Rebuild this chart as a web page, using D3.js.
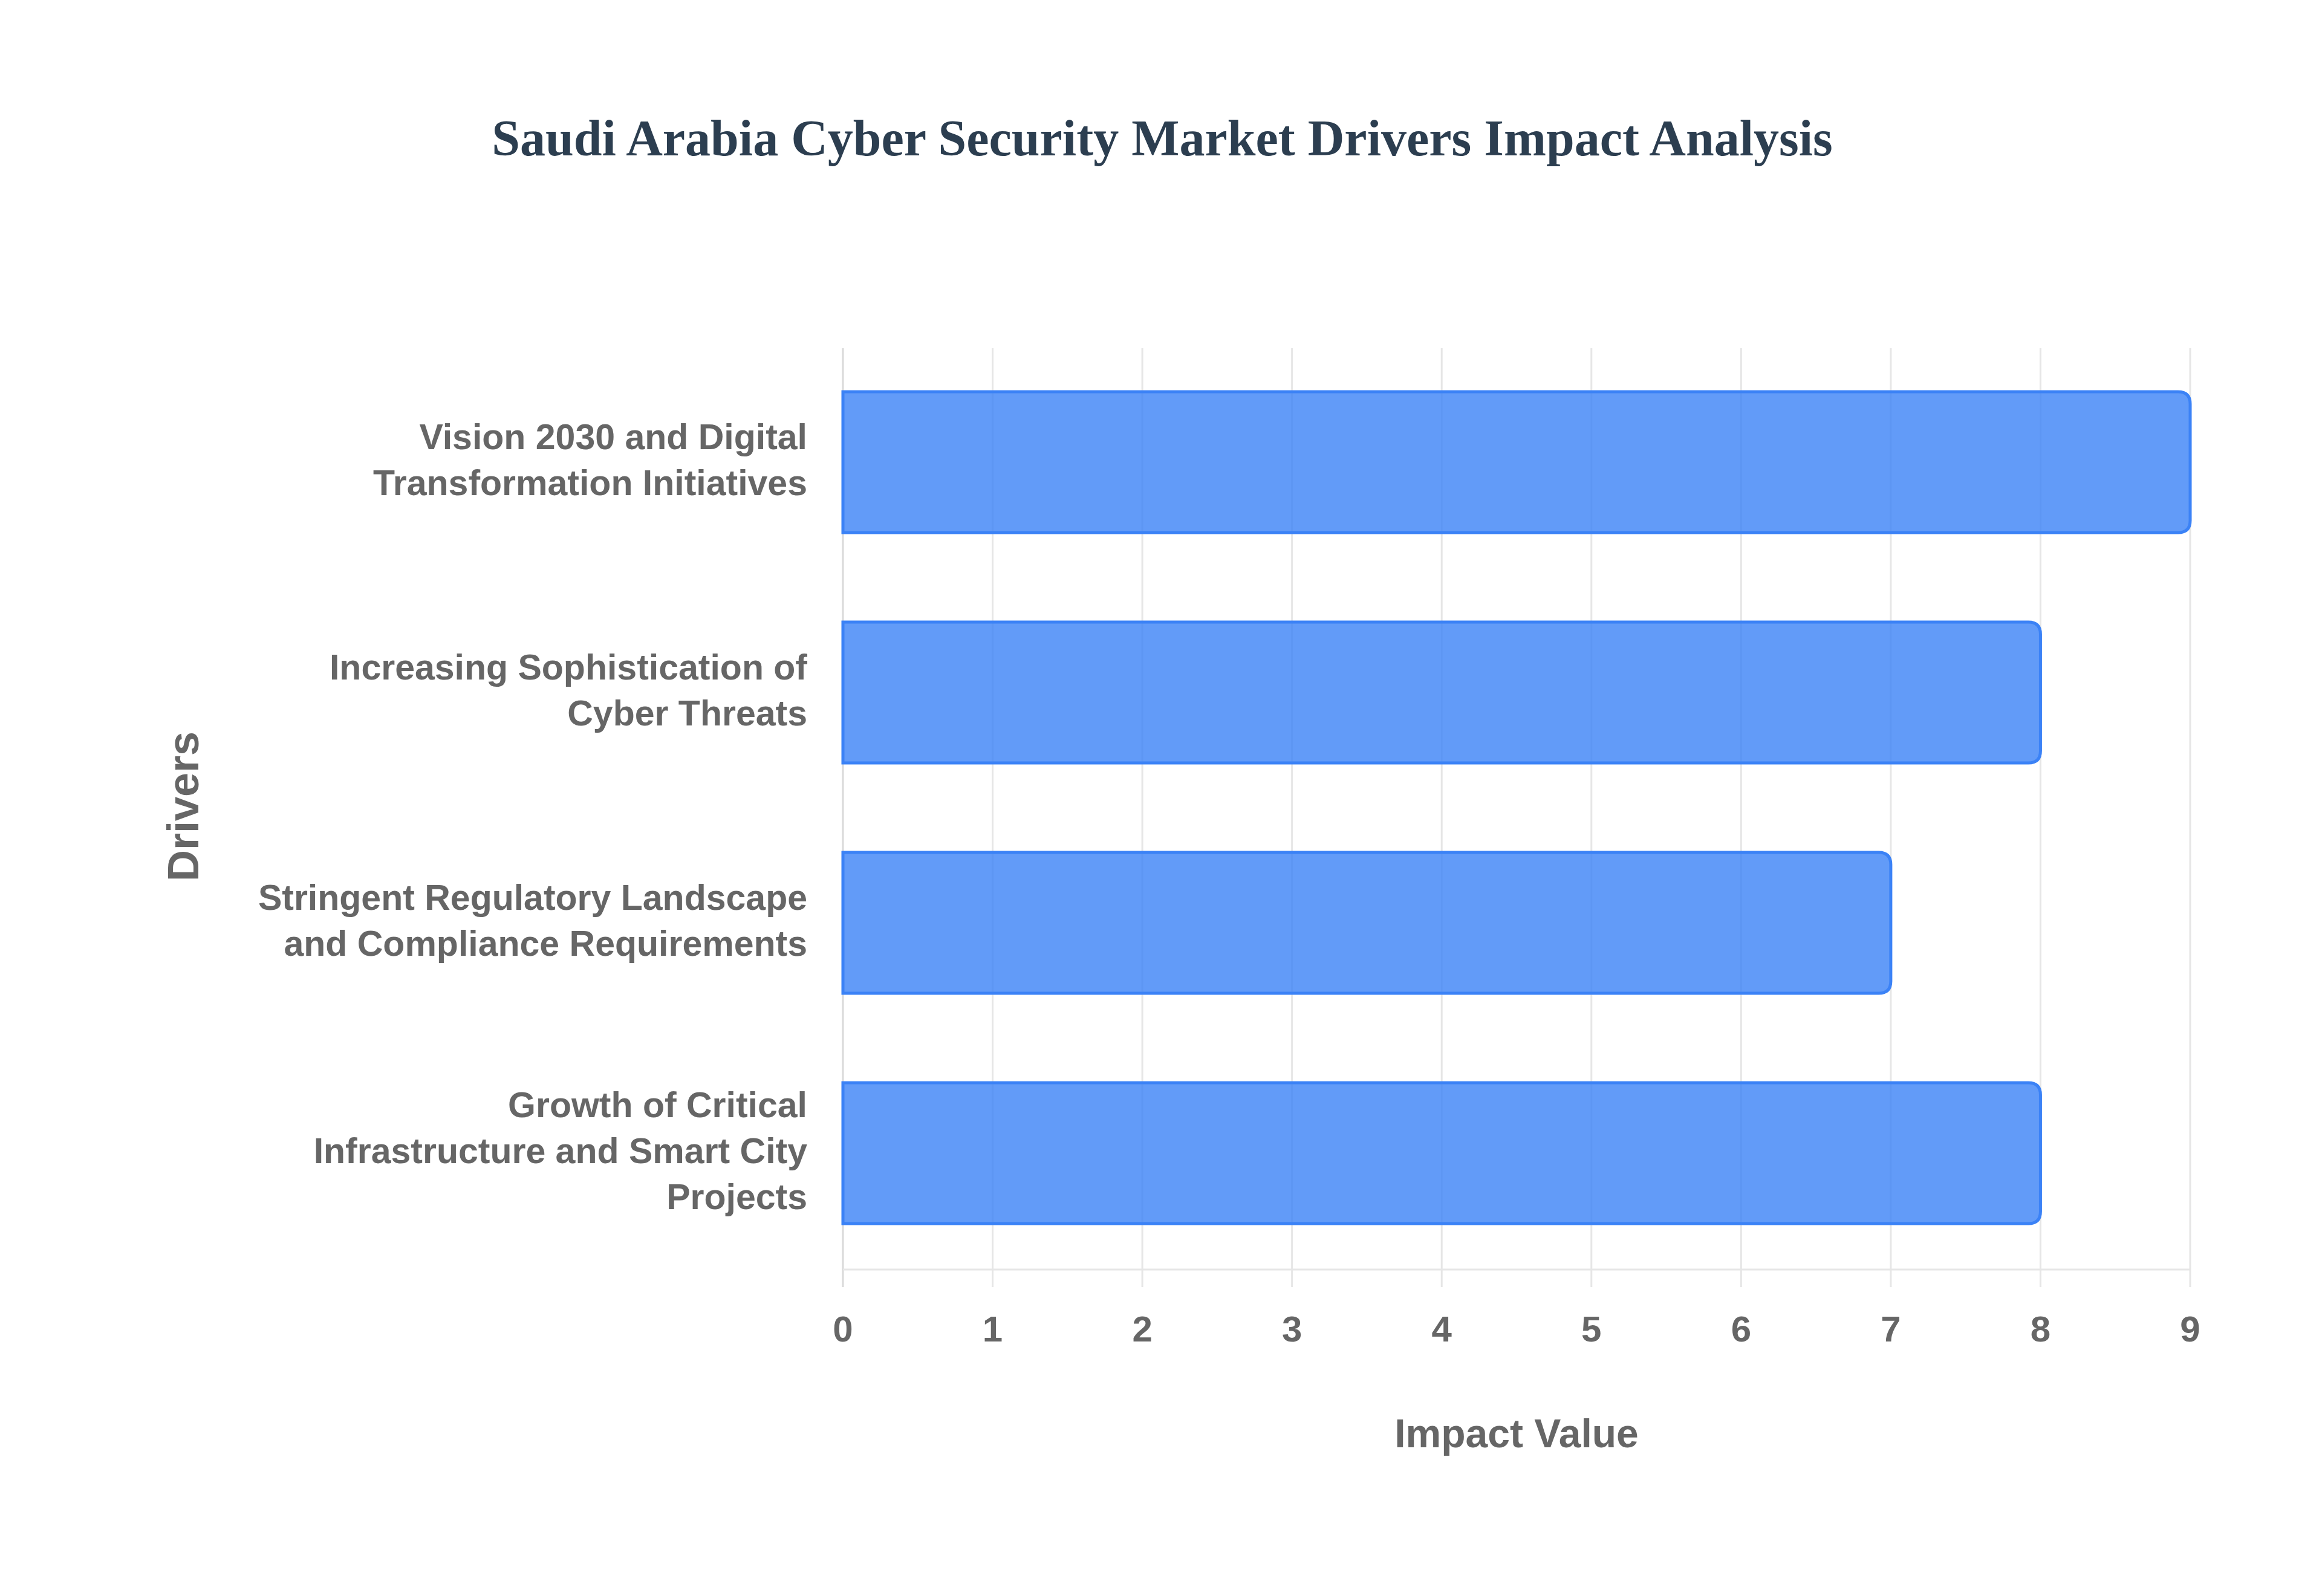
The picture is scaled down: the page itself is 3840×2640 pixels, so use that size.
<!DOCTYPE html>
<html>
<head>
<meta charset="utf-8">
<script src="https://cdn.jsdelivr.net/npm/d3@7"></script>
<style>
  html, body { margin: 0; padding: 0; background: #ffffff; }
  svg { display: block; }
</style>
</head>
<body>
<svg id="chart" width="3840" height="2640"></svg>
<script>
const titleText = "Saudi Arabia Cyber Security Market Drivers Impact Analysis";
const categories = [
  "Vision 2030 and Digital Transformation Initiatives",
  "Increasing Sophistication of Cyber Threats",
  "Stringent Regulatory Landscape and Compliance Requirements",
  "Growth of Critical Infrastructure and Smart City Projects"
];
const categoryLines = [
  ["Vision 2030 and Digital", "Transformation Initiatives"],
  ["Increasing Sophistication of", "Cyber Threats"],
  ["Stringent Regulatory Landscape", "and Compliance Requirements"],
  ["Growth of Critical", "Infrastructure and Smart City", "Projects"]
];
const impactValues = [9, 8, 7, 8];
const xTicks = [0, 1, 2, 3, 4, 5, 6, 7, 8, 9];
const xAxisTitle = "Impact Value";
const yAxisTitle = "Drivers";

(function () {
const svg = d3.select("#chart");
const W = 3840, H = 2640;
svg.append("rect").attr("width", W).attr("height", H).attr("fill", "#ffffff");

const pL = 1394, pR = 3622, pT = 576, pB = 2100;
const x = d3.scaleLinear().domain([0, 9]).range([pL, pR]);
const y = d3.scaleBand().domain(categories).range([pT, pB]).padding(0);
const barFrac = 0.612;

const sans = "'Liberation Sans', Arial, Helvetica, sans-serif";
const gray = "#666666";

// Title
svg.append("text")
  .attr("x", W / 2 + 2).attr("y", 257)
  .attr("text-anchor", "middle")
  .attr("font-family", "'Liberation Serif', 'Times New Roman', serif")
  .attr("font-weight", "bold")
  .attr("font-size", 84)
  .attr("fill", "#2c3e50")
  .text(titleText);

// Grid lines (vertical) with tick extensions
const grid = svg.append("g");
grid.selectAll("line.grid")
  .data(xTicks)
  .join("line")
  .attr("class", "grid")
  .attr("x1", d => x(d)).attr("x2", d => x(d))
  .attr("y1", pT).attr("y2", pB + 29)
  .attr("stroke", d => d === 0 ? "#d9d9d9" : "#e6e6e6")
  .attr("stroke-width", 3);
grid.append("line")
  .attr("x1", pL).attr("x2", pR)
  .attr("y1", pB).attr("y2", pB)
  .attr("stroke", "#e6e6e6").attr("stroke-width", 3);

// Bars: rounded on the right end only
const r = 20;
function barPath(x0, x1, y0, h) {
  const rr = Math.min(r, (x1 - x0), h / 2);
  return `M${x0},${y0} H${x1 - rr} Q${x1},${y0} ${x1},${y0 + rr} V${y0 + h - rr} Q${x1},${y0 + h} ${x1 - rr},${y0 + h} H${x0} Z`;
}
svg.append("g").selectAll("path.bar")
  .data(categories.map((c, i) => ({ c, v: impactValues[i] })))
  .join("path")
  .attr("class", "bar")
  .attr("d", d => {
    const h = y.bandwidth() * barFrac;
    const y0 = y(d.c) + (y.bandwidth() - h) / 2 - 2;
    return barPath(x(0), x(d.v), y0, h);
  })
  .attr("fill", "rgba(59,130,246,0.8)")
  .attr("stroke", "#3b82f6")
  .attr("stroke-width", 5);

// X tick labels
svg.append("g").selectAll("text.xt")
  .data(xTicks)
  .join("text")
  .attr("class", "xt")
  .attr("x", d => x(d)).attr("y", 2219)
  .attr("text-anchor", "middle")
  .attr("font-family", sans).attr("font-weight", "bold")
  .attr("font-size", 60).attr("fill", gray)
  .text(d => d);

// Y category labels
const lineH = 76;
const yl = svg.append("g");
categories.forEach((c, i) => {
  const lines = categoryLines[i];
  const cy = y(c) + y.bandwidth() / 2;
  const start = cy - (lines.length - 1) * lineH / 2;
  const t = yl.append("text")
    .attr("text-anchor", "end")
    .attr("font-family", sans).attr("font-weight", "bold")
    .attr("font-size", 59).attr("fill", gray);
  t.selectAll("tspan").data(lines).join("tspan")
    .attr("x", 1335)
    .attr("y", (d, j) => start + j * lineH + 14)
    .text(d => d);
});

// Axis titles
svg.append("text")
  .attr("x", (pL + pR) / 2).attr("y", 2394)
  .attr("text-anchor", "middle")
  .attr("font-family", sans).attr("font-weight", "bold")
  .attr("font-size", 66).attr("fill", gray)
  .text(xAxisTitle);

svg.append("text")
  .attr("transform", `translate(328, ${(pT + pB) / 2 - 4}) rotate(-90)`)
  .attr("text-anchor", "middle")
  .attr("font-family", sans).attr("font-weight", "bold")
  .attr("font-size", 72).attr("fill", gray)
  .text(yAxisTitle);
})();
</script>
</body>
</html>
